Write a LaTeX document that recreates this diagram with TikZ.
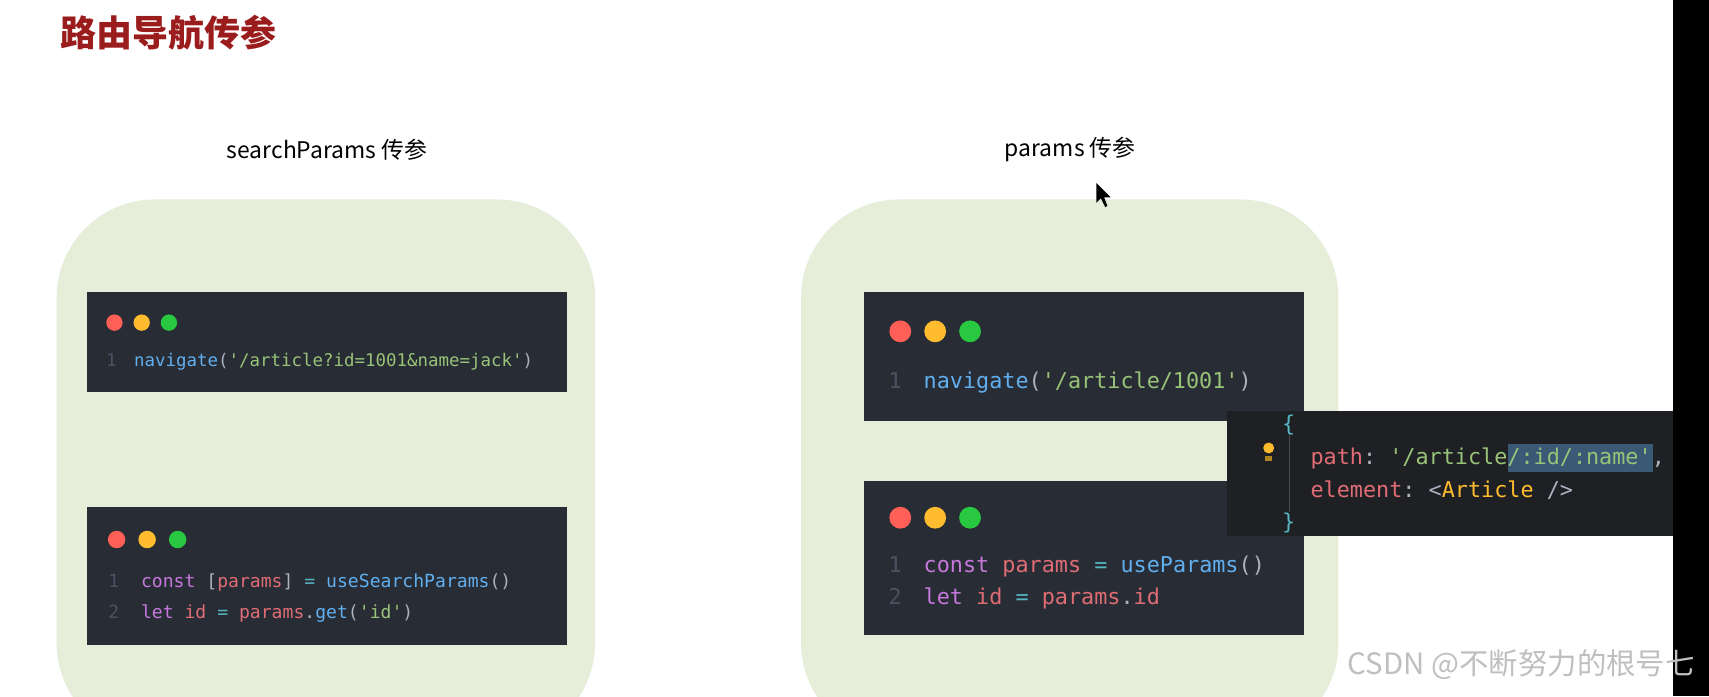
\documentclass[tikz,border=0pt]{standalone}
\usepackage{fontspec}
\setmainfont{Noto Sans CJK SC}
\newfontfamily\cjk{Noto Sans CJK SC}
\setmonofont{DejaVu Sans Mono}
\definecolor{ttl}{HTML}{9B1C1C}
\definecolor{panel}{HTML}{E6EEDA}
\definecolor{code}{HTML}{282C34}
\definecolor{pop}{HTML}{1F2023}
\definecolor{cb}{HTML}{61AFEF}
\definecolor{cg}{HTML}{98C379}
\definecolor{cp}{HTML}{C678DD}
\definecolor{cr}{HTML}{E06C75}
\definecolor{cc}{HTML}{56B6C2}
\definecolor{cw}{HTML}{ABB2BF}
\definecolor{cn}{HTML}{4B5263}
\definecolor{dr}{HTML}{FF5F57}
\definecolor{dy}{HTML}{FEBC2E}
\definecolor{dg}{HTML}{28C840}
\begin{document}
\begin{tikzpicture}[x=0.5pt,y=-0.5pt,
  ln/.style={anchor=base west,font=\ttfamily,text=cw,inner sep=0}]
\useasboundingbox (0,0) rectangle (1568,639);
\fill[white] (0,0) rectangle (1568,639);
\fill[black] (1535,0) rectangle (1568,639);
\node[anchor=west,inner sep=0,text=ttl,font=\cjk\bfseries\fontsize{16.5}{19}\selectfont] (title) at (55,30) {路由导航传参};
\node[font=\cjk\fontsize{10.5}{12}\selectfont] (h1) at (300,137) {searchParams 传参};
\node[font=\cjk\fontsize{10.5}{12}\selectfont] (h2) at (982,137) {params 传参};
\fill[panel,rounded corners=45pt] (52,183) rectangle (546,680);
\fill[panel,rounded corners=45pt] (735,183) rectangle (1228,680);
% left boxes
\fill[code] (80,268) rectangle (520,360);
\fill[code] (80,465) rectangle (520,592);
\foreach \x/\c in {105/dr,130/dy,155/dg}{\fill[\c] (\x,296) circle (7.5);}
\foreach \x/\c in {107/dr,135/dy,163/dg}{\fill[\c] (\x,495) circle (8);}
\node[ln,font=\ttfamily\fontsize{8}{10}\selectfont] (l1) at (97,336) {\textcolor{cn}{1}\hspace{8pt}\textcolor{cb}{navigate}(\textcolor{cg}{'/article?id=1001\&name=jack'})};
\node[ln,font=\ttfamily\fontsize{8.3}{10}\selectfont] (l2) at (99,539) {\textcolor{cn}{1}\hspace{10pt}\textcolor{cp}{const} [\textcolor{cr}{params}] \textcolor{cc}{=} \textcolor{cb}{useSearchParams}()};
\node[ln,font=\ttfamily\fontsize{8.3}{10}\selectfont] (l3) at (99,567) {\textcolor{cn}{2}\hspace{10pt}\textcolor{cp}{let} \textcolor{cr}{id} \textcolor{cc}{=} \textcolor{cr}{params}.\textcolor{cb}{get}(\textcolor{cg}{'id'})};
% right boxes
\fill[code] (793,268) rectangle (1196,386);
\fill[code] (793,441) rectangle (1196,583);
\foreach \x/\c in {826/dr,858/dy,890/dg}{\fill[\c] (\x,304) circle (10);\fill[\c] (\x,475) circle (10);}
\node[ln,font=\ttfamily\fontsize{10}{12}\selectfont] (r1) at (815,356) {\textcolor{cn}{1}\hspace{10pt}\textcolor{cb}{navigate}(\textcolor{cg}{'/article/1001'})};
\node[ln,font=\ttfamily\fontsize{10}{12}\selectfont] (r2) at (815,525) {\textcolor{cn}{1}\hspace{10pt}\textcolor{cp}{const} \textcolor{cr}{params} \textcolor{cc}{=} \textcolor{cb}{useParams}()};
\node[ln,font=\ttfamily\fontsize{10}{12}\selectfont] (r3) at (815,555) {\textcolor{cn}{2}\hspace{10pt}\textcolor{cp}{let} \textcolor{cr}{id} \textcolor{cc}{=} \textcolor{cr}{params}.\textcolor{cr}{id}};
% popup
\fill[pop] (1126,377) rectangle (1535,492);
\draw[gray!60!black] (1183,398) -- (1183,470);
\fill[dy] (1164,411) circle (5);
\fill[dy!70!black] (1161,418) rectangle (1167,423);
\node[ln,font=\ttfamily\fontsize{10}{12}\selectfont,text=cc] (p1) at (1176,396) {\{};
\fill[cb!40!pop] (1384,407) rectangle (1517,433);
\node[ln,font=\ttfamily\fontsize{10}{12}\selectfont] (p2) at (1202,426) {\textcolor{cr}{path}: \textcolor{cg}{'/article/:id/:name'},};
\node[ln,font=\ttfamily\fontsize{10}{12}\selectfont] (p3) at (1202,456) {\textcolor{cr}{element}: \textcolor{cw}{<}\textcolor{dy}{Article} \textcolor{cw}{/>}};
\node[ln,font=\ttfamily\fontsize{10}{12}\selectfont,text=cc] (p4) at (1176,486) {\}};
% cursor
\fill[black] (1006,168) -- (1006,186) -- (1010,182) -- (1014,190) -- (1016,189) -- (1013,181) -- (1019,181) -- cycle;
\node[anchor=east,text=black!25,font=\cjk\fontsize{13.5}{15}\selectfont] (wm) at (1562,610) {CSDN @不断努力的根号七};
\end{tikzpicture}
\end{document}
